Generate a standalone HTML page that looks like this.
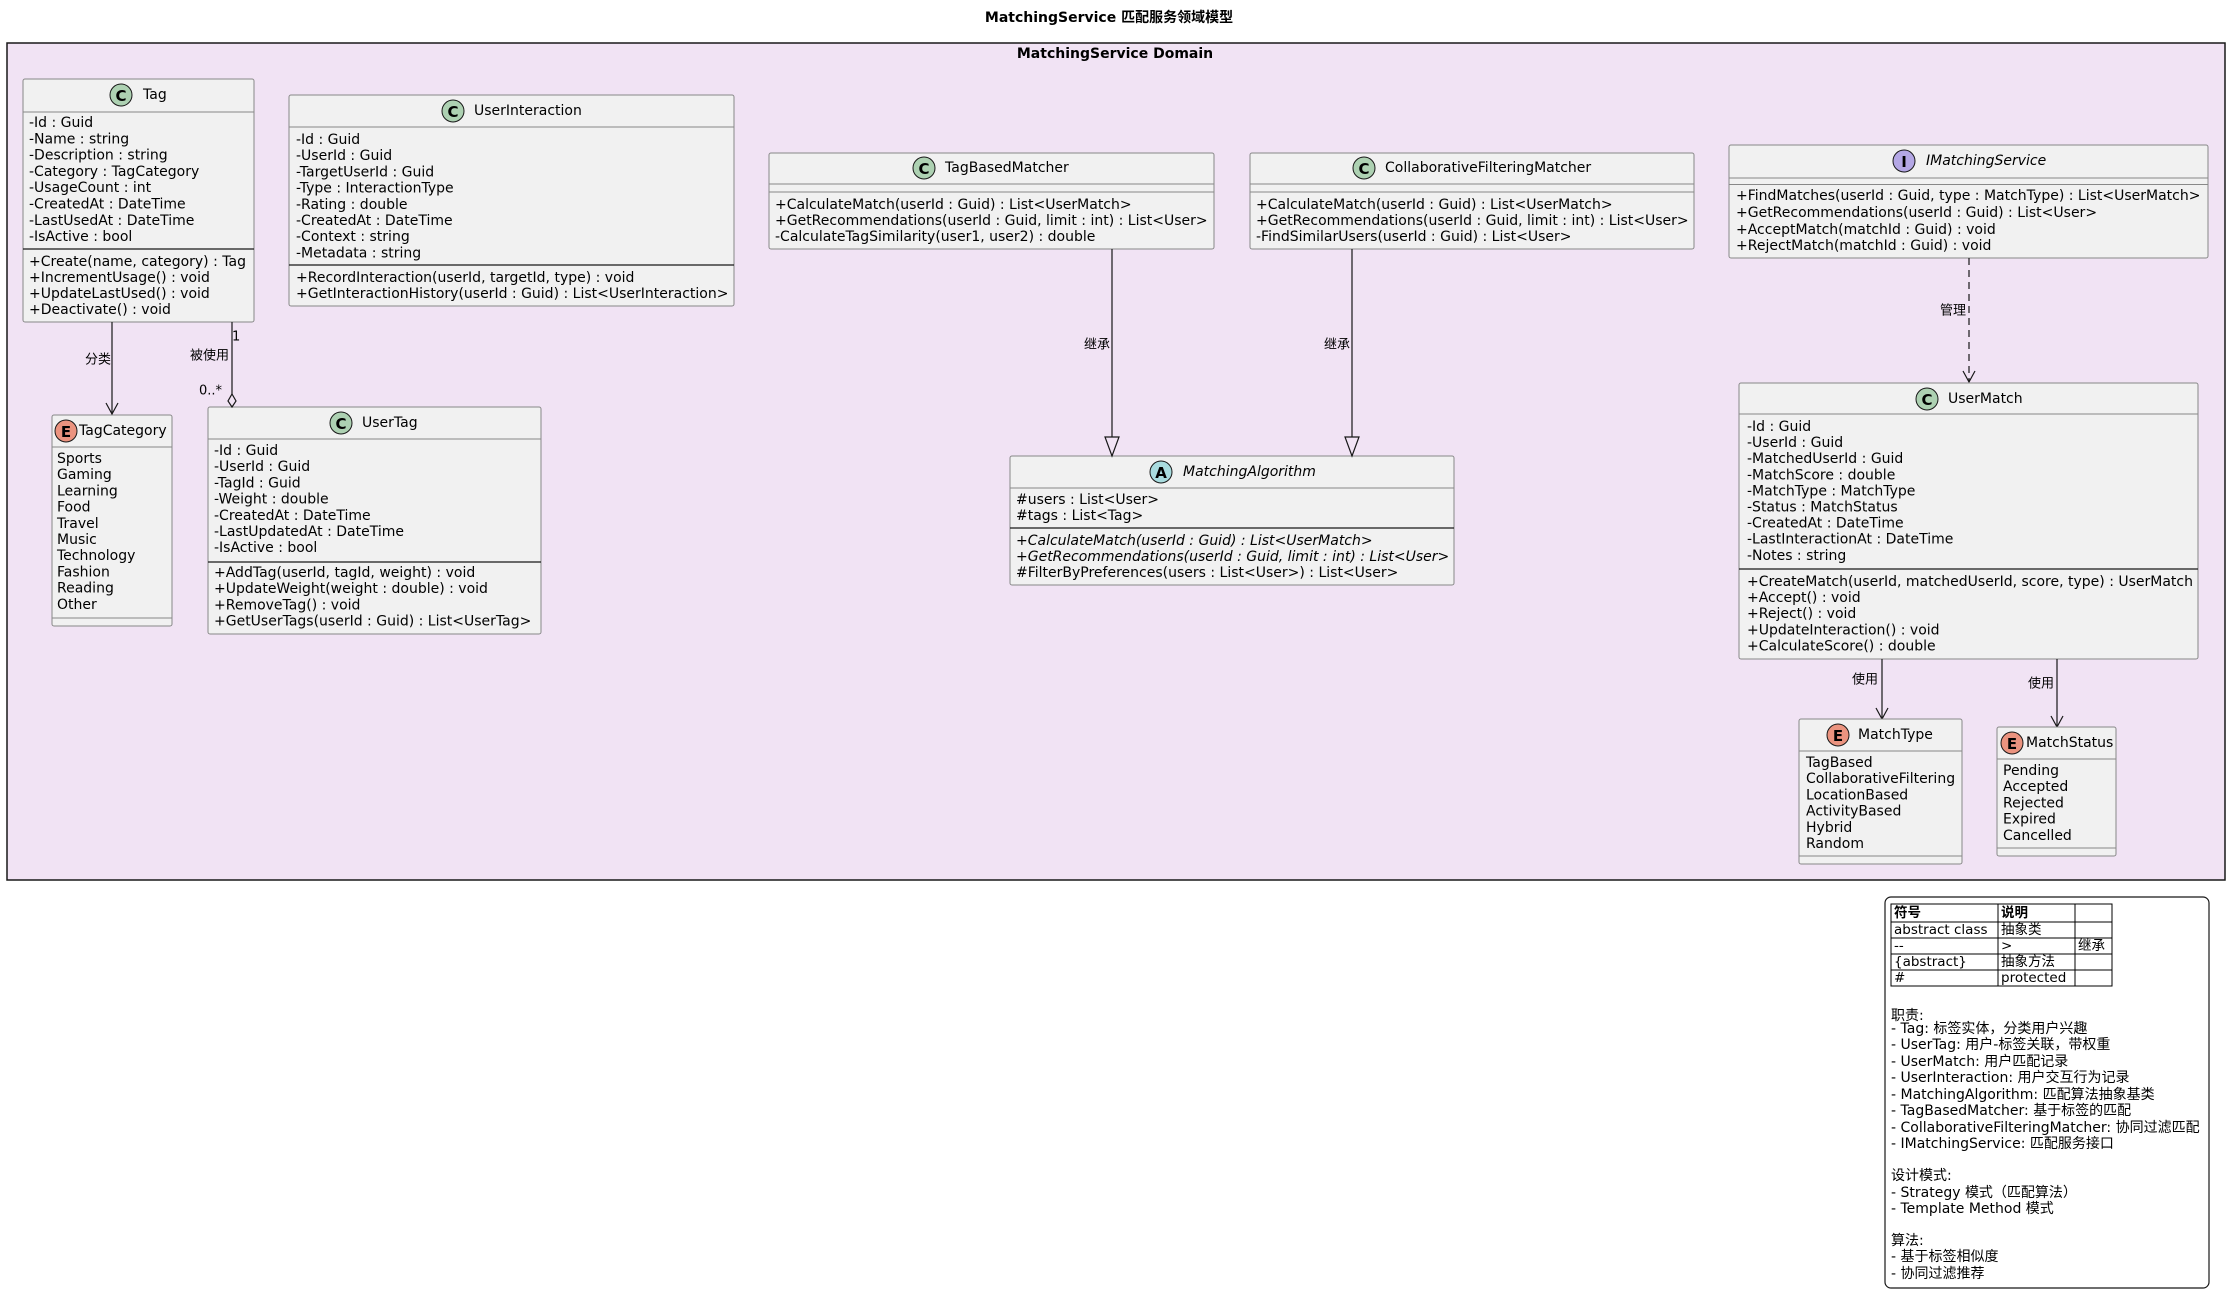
<!DOCTYPE html>
<html><head><meta charset="utf-8"><style>
html,body{margin:0;padding:0;background:#fff;}
svg{display:block;}
text{font-family:"DejaVu Sans","Liberation Sans","Noto Sans CJK SC",sans-serif;font-size:14px;fill:#000;dominant-baseline:central;}
.b{fill:#F1F1F1;stroke:#888;stroke-width:1;}
.hs{stroke:#888;stroke-width:1;}
.ms{stroke:#181818;stroke-width:1.2;}
.ln{stroke:#181818;stroke-width:1.2;fill:none;}
.lbl{font-size:13px;}
.lg{font-size:14px;}
.tb{font-size:13.5px;}
.it{font-style:italic;}
.cl{font-weight:bold;font-size:15px;text-anchor:middle;}
</style></head><body>
<svg width="2230" height="1305" viewBox="0 0 2230 1305" xmlns="http://www.w3.org/2000/svg">
<text x="1109" y="18" style="font-weight:bold;font-size:14px" text-anchor="middle">MatchingService 匹配服务领域模型</text>
<rect x="7" y="43" width="2218" height="837" fill="#F1E3F4" stroke="#181818" stroke-width="1.5"/>
<text x="1115" y="54" style="font-weight:bold;font-size:14px" text-anchor="middle">MatchingService Domain</text>

<!-- Tag -->
<rect class="b" x="23" y="79" width="231" height="243" rx="2"/>
<line class="hs" x1="23" y1="112" x2="254" y2="112"/>
<line class="ms" x1="23" y1="249" x2="254" y2="249"/>
<circle cx="121" cy="95" r="11" fill="#ADD1B2" stroke="#181818"/><text x="121" y="96" class="cl">C</text>
<text x="143" y="95">Tag</text>
<text x="29" y="123">-Id : Guid</text>
<text x="29" y="139.3">-Name : string</text>
<text x="29" y="155.6">-Description : string</text>
<text x="29" y="171.9">-Category : TagCategory</text>
<text x="29" y="188.2">-UsageCount : int</text>
<text x="29" y="204.5">-CreatedAt : DateTime</text>
<text x="29" y="220.8">-LastUsedAt : DateTime</text>
<text x="29" y="237.1">-IsActive : bool</text>
<text x="29" y="262">+Create(name, category) : Tag</text>
<text x="29" y="278">+IncrementUsage() : void</text>
<text x="29" y="294">+UpdateLastUsed() : void</text>
<text x="29" y="310">+Deactivate() : void</text>

<!-- UserInteraction -->
<rect class="b" x="289" y="95" width="445" height="211" rx="2"/>
<line class="hs" x1="289" y1="127" x2="734" y2="127"/>
<line class="ms" x1="289" y1="265" x2="734" y2="265"/>
<circle cx="453" cy="111" r="11" fill="#ADD1B2" stroke="#181818"/><text x="453" y="112" class="cl">C</text>
<text x="474" y="111">UserInteraction</text>
<text x="296" y="140">-Id : Guid</text>
<text x="296" y="156.2">-UserId : Guid</text>
<text x="296" y="172.4">-TargetUserId : Guid</text>
<text x="296" y="188.6">-Type : InteractionType</text>
<text x="296" y="204.8">-Rating : double</text>
<text x="296" y="221">-CreatedAt : DateTime</text>
<text x="296" y="237.2">-Context : string</text>
<text x="296" y="253.4">-Metadata : string</text>
<text x="296" y="278">+RecordInteraction(userId, targetId, type) : void</text>
<text x="296" y="294">+GetInteractionHistory(userId : Guid) : List&lt;UserInteraction&gt;</text>

<!-- TagCategory -->
<rect class="b" x="52" y="415" width="120" height="211" rx="2"/>
<line class="hs" x1="52" y1="447" x2="172" y2="447"/>
<line class="hs" x1="52" y1="618" x2="172" y2="618"/>
<circle cx="66" cy="431" r="11" fill="#EB937F" stroke="#181818"/><text x="66" y="432" class="cl">E</text>
<text x="79" y="431">TagCategory</text>
<text x="57" y="459">Sports</text>
<text x="57" y="475.2">Gaming</text>
<text x="57" y="491.4">Learning</text>
<text x="57" y="507.6">Food</text>
<text x="57" y="523.8">Travel</text>
<text x="57" y="540">Music</text>
<text x="57" y="556.2">Technology</text>
<text x="57" y="572.4">Fashion</text>
<text x="57" y="588.6">Reading</text>
<text x="57" y="604.8">Other</text>

<!-- UserTag -->
<rect class="b" x="208" y="407" width="333" height="227" rx="2"/>
<line class="hs" x1="208" y1="439" x2="541" y2="439"/>
<line class="ms" x1="208" y1="562" x2="541" y2="562"/>
<circle cx="341" cy="423" r="11" fill="#ADD1B2" stroke="#181818"/><text x="341" y="424" class="cl">C</text>
<text x="362" y="423">UserTag</text>
<text x="214" y="451">-Id : Guid</text>
<text x="214" y="467.2">-UserId : Guid</text>
<text x="214" y="483.4">-TagId : Guid</text>
<text x="214" y="499.6">-Weight : double</text>
<text x="214" y="515.8">-CreatedAt : DateTime</text>
<text x="214" y="532">-LastUpdatedAt : DateTime</text>
<text x="214" y="548.2">-IsActive : bool</text>
<text x="214" y="573">+AddTag(userId, tagId, weight) : void</text>
<text x="214" y="589.2">+UpdateWeight(weight : double) : void</text>
<text x="214" y="605.4">+RemoveTag() : void</text>
<text x="214" y="621.6">+GetUserTags(userId : Guid) : List&lt;UserTag&gt;</text>

<!-- Tag arrows -->
<line class="ln" x1="112" y1="322" x2="112" y2="414"/>
<polyline class="ln" points="106,403 112,414 118,403"/>
<text x="85" y="360" class="lbl">分类</text>
<line class="ln" x1="232" y1="322" x2="232" y2="394"/>
<polygon points="232,394 236,401 232,407 228,401" fill="#F1E3F4" stroke="#181818" stroke-width="1.2"/>
<text x="232" y="337" class="lbl">1</text>
<text x="229" y="356" class="lbl" text-anchor="end">被使用</text>
<text x="222" y="391" class="lbl" text-anchor="end">0..*</text>

<!-- TagBasedMatcher -->
<rect class="b" x="769" y="153" width="445" height="96" rx="2"/>
<line class="hs" x1="769" y1="184" x2="1214" y2="184"/>
<line class="hs" x1="769" y1="192" x2="1214" y2="192"/>
<circle cx="924" cy="168" r="11" fill="#ADD1B2" stroke="#181818"/><text x="924" y="169" class="cl">C</text>
<text x="945" y="168">TagBasedMatcher</text>
<text x="775" y="205">+CalculateMatch(userId : Guid) : List&lt;UserMatch&gt;</text>
<text x="775" y="221">+GetRecommendations(userId : Guid, limit : int) : List&lt;User&gt;</text>
<text x="775" y="237">-CalculateTagSimilarity(user1, user2) : double</text>

<!-- CollaborativeFilteringMatcher -->
<rect class="b" x="1250" y="153" width="444" height="96" rx="2"/>
<line class="hs" x1="1250" y1="184" x2="1694" y2="184"/>
<line class="hs" x1="1250" y1="192" x2="1694" y2="192"/>
<circle cx="1364" cy="168" r="11" fill="#ADD1B2" stroke="#181818"/><text x="1364" y="169" class="cl">C</text>
<text x="1385" y="168">CollaborativeFilteringMatcher</text>
<text x="1256" y="205">+CalculateMatch(userId : Guid) : List&lt;UserMatch&gt;</text>
<text x="1256" y="221">+GetRecommendations(userId : Guid, limit : int) : List&lt;User&gt;</text>
<text x="1256" y="237">-FindSimilarUsers(userId : Guid) : List&lt;User&gt;</text>

<!-- MatchingAlgorithm -->
<rect class="b" x="1010" y="456" width="444" height="129" rx="2"/>
<line class="hs" x1="1010" y1="488" x2="1454" y2="488"/>
<line class="ms" x1="1010" y1="528" x2="1454" y2="528"/>
<circle cx="1161" cy="472" r="11" fill="#A9DCDF" stroke="#181818"/><text x="1161" y="473" class="cl">A</text>
<text x="1183" y="472" class="it">MatchingAlgorithm</text>
<text x="1016" y="500">#users : List&lt;User&gt;</text>
<text x="1016" y="516">#tags : List&lt;Tag&gt;</text>
<text x="1016" y="541" class="it">+CalculateMatch(userId : Guid) : List&lt;UserMatch&gt;</text>
<text x="1016" y="557" class="it">+GetRecommendations(userId : Guid, limit : int) : List&lt;User&gt;</text>
<text x="1016" y="573">#FilterByPreferences(users : List&lt;User&gt;) : List&lt;User&gt;</text>

<!-- inheritance -->
<line class="ln" x1="1112" y1="249" x2="1112" y2="437"/>
<polygon points="1105,437 1119,437 1112,456" fill="none" stroke="#181818" stroke-width="1.2"/>
<text x="1110" y="345" class="lbl" text-anchor="end">继承</text>
<line class="ln" x1="1352" y1="249" x2="1352" y2="437"/>
<polygon points="1345,437 1359,437 1352,456" fill="none" stroke="#181818" stroke-width="1.2"/>
<text x="1350" y="345" class="lbl" text-anchor="end">继承</text>

<!-- IMatchingService -->
<rect class="b" x="1729" y="145" width="479" height="113" rx="2"/>
<line class="hs" x1="1729" y1="178" x2="2208" y2="178"/>
<line class="hs" x1="1729" y1="184.5" x2="2208" y2="184.5"/>
<circle cx="1904" cy="161" r="11" fill="#B4A7E5" stroke="#181818"/><text x="1904" y="162" class="cl">I</text>
<text x="1926" y="161" class="it">IMatchingService</text>
<text x="1736" y="196">+FindMatches(userId : Guid, type : MatchType) : List&lt;UserMatch&gt;</text>
<text x="1736" y="213">+GetRecommendations(userId : Guid) : List&lt;User&gt;</text>
<text x="1736" y="230">+AcceptMatch(matchId : Guid) : void</text>
<text x="1736" y="246">+RejectMatch(matchId : Guid) : void</text>

<line class="ln" x1="1969" y1="258" x2="1969" y2="382" stroke-dasharray="7,5"/>
<polyline class="ln" points="1963,371 1969,382 1975,371"/>
<text x="1966" y="311" class="lbl" text-anchor="end">管理</text>

<!-- UserMatch -->
<rect class="b" x="1739" y="383" width="459" height="276" rx="2"/>
<line class="hs" x1="1739" y1="414" x2="2198" y2="414"/>
<line class="ms" x1="1739" y1="569" x2="2198" y2="569"/>
<circle cx="1927" cy="399" r="11" fill="#ADD1B2" stroke="#181818"/><text x="1927" y="400" class="cl">C</text>
<text x="1948" y="399">UserMatch</text>
<text x="1747" y="427">-Id : Guid</text>
<text x="1747" y="443.1">-UserId : Guid</text>
<text x="1747" y="459.2">-MatchedUserId : Guid</text>
<text x="1747" y="475.3">-MatchScore : double</text>
<text x="1747" y="491.4">-MatchType : MatchType</text>
<text x="1747" y="507.5">-Status : MatchStatus</text>
<text x="1747" y="523.6">-CreatedAt : DateTime</text>
<text x="1747" y="539.7">-LastInteractionAt : DateTime</text>
<text x="1747" y="555.8">-Notes : string</text>
<text x="1747" y="582">+CreateMatch(userId, matchedUserId, score, type) : UserMatch</text>
<text x="1747" y="598.1">+Accept() : void</text>
<text x="1747" y="614.2">+Reject() : void</text>
<text x="1747" y="630.3">+UpdateInteraction() : void</text>
<text x="1747" y="646.4">+CalculateScore() : double</text>

<line class="ln" x1="1882" y1="659" x2="1882" y2="719"/>
<polyline class="ln" points="1876,708 1882,719 1888,708"/>
<text x="1878" y="680" class="lbl" text-anchor="end">使用</text>
<line class="ln" x1="2057" y1="659" x2="2057" y2="727"/>
<polyline class="ln" points="2051,716 2057,727 2063,716"/>
<text x="2054" y="684" class="lbl" text-anchor="end">使用</text>

<!-- MatchType -->
<rect class="b" x="1799" y="719" width="163" height="145" rx="2"/>
<line class="hs" x1="1799" y1="751" x2="1962" y2="751"/>
<line class="hs" x1="1799" y1="856" x2="1962" y2="856"/>
<circle cx="1838" cy="735" r="11" fill="#EB937F" stroke="#181818"/><text x="1838" y="736" class="cl">E</text>
<text x="1858" y="735">MatchType</text>
<text x="1806" y="763">TagBased</text>
<text x="1806" y="779.2">CollaborativeFiltering</text>
<text x="1806" y="795.4">LocationBased</text>
<text x="1806" y="811.6">ActivityBased</text>
<text x="1806" y="827.8">Hybrid</text>
<text x="1806" y="844">Random</text>

<!-- MatchStatus -->
<rect class="b" x="1997" y="727" width="119" height="129" rx="2"/>
<line class="hs" x1="1997" y1="759" x2="2116" y2="759"/>
<line class="hs" x1="1997" y1="848" x2="2116" y2="848"/>
<circle cx="2012" cy="743" r="11" fill="#EB937F" stroke="#181818"/><text x="2012" y="744" class="cl">E</text>
<text x="2026" y="743">MatchStatus</text>
<text x="2003" y="771">Pending</text>
<text x="2003" y="787.2">Accepted</text>
<text x="2003" y="803.4">Rejected</text>
<text x="2003" y="819.6">Expired</text>
<text x="2003" y="835.8">Cancelled</text>

<!-- Legend -->
<rect x="1885" y="897" width="324" height="391" rx="6" fill="#fff" stroke="#181818" stroke-width="1.2"/>
<g stroke="#000" stroke-width="1" fill="none">
<rect x="1891" y="904" width="221" height="82"/>
<line x1="1998" y1="904" x2="1998" y2="986"/>
<line x1="2075" y1="904" x2="2075" y2="986"/>
<line x1="1891" y1="922" x2="2112" y2="922"/>
<line x1="1891" y1="938" x2="2112" y2="938"/>
<line x1="1891" y1="954" x2="2112" y2="954"/>
<line x1="1891" y1="970" x2="2112" y2="970"/>
</g>
<text x="1894" y="913" style="font-weight:bold;font-size:13.5px">符号</text>
<text x="2001" y="913" style="font-weight:bold;font-size:13.5px">说明</text>
<text x="1894" y="930" class="tb">abstract class</text>
<text x="2001" y="930" class="tb">抽象类</text>
<text x="1894" y="946" class="tb">--</text>
<text x="2001" y="946" class="tb">&gt;</text>
<text x="2078" y="946" class="tb">继承</text>
<text x="1894" y="962" class="tb">{abstract}</text>
<text x="2001" y="962" class="tb">抽象方法</text>
<text x="1894" y="978" class="tb">#</text>
<text x="2001" y="978" class="tb">protected</text>
<text x="1891" y="1016" class="lg">职责:</text>
<text x="1891" y="1029" class="lg">- Tag: 标签实体，分类用户兴趣</text>
<text x="1891" y="1045" class="lg">- UserTag: 用户-标签关联，带权重</text>
<text x="1891" y="1062" class="lg">- UserMatch: 用户匹配记录</text>
<text x="1891" y="1078" class="lg">- UserInteraction: 用户交互行为记录</text>
<text x="1891" y="1095" class="lg">- MatchingAlgorithm: 匹配算法抽象基类</text>
<text x="1891" y="1111" class="lg">- TagBasedMatcher: 基于标签的匹配</text>
<text x="1891" y="1128" class="lg">- CollaborativeFilteringMatcher: 协同过滤匹配</text>
<text x="1891" y="1144" class="lg">- IMatchingService: 匹配服务接口</text>
<text x="1891" y="1176" class="lg">设计模式:</text>
<text x="1891" y="1193" class="lg">- Strategy 模式（匹配算法）</text>
<text x="1891" y="1209" class="lg">- Template Method 模式</text>
<text x="1891" y="1241" class="lg">算法:</text>
<text x="1891" y="1257" class="lg">- 基于标签相似度</text>
<text x="1891" y="1274" class="lg">- 协同过滤推荐</text>
</svg>
</body></html>
